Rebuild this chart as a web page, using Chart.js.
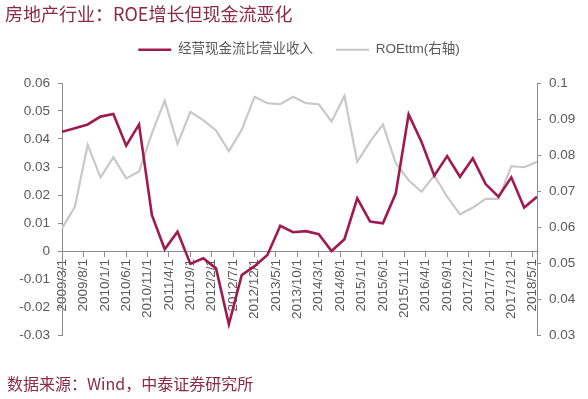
<!DOCTYPE html>
<html><head><meta charset="utf-8">
<script src="https://cdn.jsdelivr.net/npm/chart.js@4/dist/chart.umd.min.js"></script>
<style>
html,body{margin:0;padding:0;background:#fff;width:588px;height:399px;overflow:hidden;}
#wrap{position:relative;width:588px;height:399px;}
canvas{position:absolute;left:0;top:0;}
.t{position:absolute;font-family:"Noto Sans CJK SC","Liberation Sans",sans-serif;color:#8a2a47;white-space:nowrap;}
#title{left:5px;top:0px;font-size:18px;line-height:26px;}
#foot{left:7px;top:371px;font-size:16px;line-height:24px;}
</style></head><body>
<div id="wrap">
<canvas id="c" width="588" height="399"></canvas>
<div class="t" id="title">房地产行业：ROE增长但现金流恶化</div>
<div class="t" id="foot">数据来源：Wind，中泰证券研究所</div>
</div>
<script>
// quarterly observation dates
const dates = ["2009/3/1","2009/6/1","2009/9/1","2009/12/1","2010/3/1","2010/6/1","2010/9/1","2010/12/1",
"2011/3/1","2011/6/1","2011/9/1","2011/12/1","2012/3/1","2012/6/1","2012/9/1","2012/12/1",
"2013/3/1","2013/6/1","2013/9/1","2013/12/1","2014/3/1","2014/6/1","2014/9/1","2014/12/1",
"2015/3/1","2015/6/1","2015/9/1","2015/12/1","2016/3/1","2016/6/1","2016/9/1","2016/12/1",
"2017/3/1","2017/6/1","2017/9/1","2017/12/1","2018/3/1","2018/6/1"];
// 经营现金流比营业收入 (left axis)
const cashRatio = [0.0426,0.0438,0.0452,0.0480,0.0489,0.0376,0.0452,0.0129,
0.0006,0.0069,-0.0046,-0.0026,-0.0062,-0.0262,-0.0086,-0.0054,
-0.0014,0.0090,0.0067,0.0071,0.0060,0.0000,0.0042,0.0188,
0.0105,0.0099,0.0206,0.0488,0.0390,0.0269,0.0339,0.0265,
0.0331,0.0239,0.0194,0.0263,0.0155,0.0194];
// ROEttm (right axis)
const roeTtm = [0.0596,0.0656,0.0828,0.0738,0.0794,0.0735,0.0754,0.0860,
0.0951,0.0831,0.0920,0.0897,0.0868,0.0811,0.0870,0.0962,
0.0944,0.0941,0.0962,0.0944,0.0941,0.0893,0.0964,0.0781,
0.0837,0.0885,0.0777,0.0730,0.0698,0.0743,0.0684,0.0635,
0.0654,0.0678,0.0678,0.0769,0.0766,0.0781];
// x-axis tick labels (every 5 months)
const tickLabels = ["2009/3/1","2009/8/1","2010/1/1","2010/6/1","2010/11/1","2011/4/1","2011/9/1","2012/2/1",
"2012/7/1","2012/12/1","2013/5/1","2013/10/1","2014/3/1","2014/8/1","2015/1/1","2015/6/1","2015/11/1",
"2016/4/1","2016/9/1","2017/2/1","2017/7/1","2017/12/1","2018/5/1"];
const leftTicks = [-0.03,-0.02,-0.01,0,0.01,0.02,0.03,0.04,0.05,0.06];
const rightTicks = [0.03,0.04,0.05,0.06,0.07,0.08,0.09,0.1];

function monthIndex(d){const p=d.split('/');return (parseInt(p[0])-2009)*12+(parseInt(p[1])-3);}
const xs = dates.map(monthIndex);
const pts = arr => arr.map((v,i)=>({x:xs[i],y:v}));

const axisColor = '#8c8c8c';
const tickFont = {family:'"Liberation Sans", Arial, sans-serif', size:13.5};
const labelColor = '#595959';

const legendSpacer = {
  id:'legendSpacer',
  beforeInit(chart){
    const orig = chart.legend.fit;
    chart.legend.fit = function(){ orig.call(this); this.height = 63; };
  }
};

new Chart(document.getElementById('c'), {
  type:'line',
  data:{datasets:[
    {label:'经营现金流比营业收入', data:pts(cashRatio), yAxisID:'yL', borderColor:'#a01a52', backgroundColor:'#a01a52', borderWidth:2.6, pointRadius:0, tension:0, order:0},
    {label:'ROEttm(右轴)', data:pts(roeTtm), yAxisID:'yR', borderColor:'#c8c8c8', backgroundColor:'#c8c8c8', borderWidth:2.2, pointRadius:0, tension:0, order:1}
  ]},
  plugins:[legendSpacer],
  options:{
    responsive:false, animation:false, devicePixelRatio:1,
    layout:{padding:{left:10,right:0,top:20,bottom:64}},
    plugins:{
      tooltip:{enabled:false},
      legend:{position:'top', labels:{usePointStyle:true, pointStyle:'line', pointStyleWidth:33, padding:23, color:labelColor,
        font:{family:'"Liberation Sans","Noto Sans CJK SC",sans-serif', size:13.5}}}
    },
    scales:{
      x:{type:'linear', position:{yL:0}, min:0, max:111,
        afterBuildTicks(s){ s.ticks = tickLabels.map((l,i)=>({value:i*5})); },
        grid:{drawOnChartArea:false, drawTicks:true, tickLength:5, color:axisColor},
        border:{color:axisColor, width:1},
        ticks:{autoSkip:false, maxRotation:90, minRotation:90, padding:3, color:labelColor, font:tickFont,
          callback:(v)=>tickLabels[Math.round(v/5)]}
      },
      yL:{type:'linear', position:'left', min:-0.03, max:0.06,
        afterBuildTicks(s){ s.ticks = leftTicks.map(v=>({value:v})); },
        afterFit(s){ s.width = 52; },
        grid:{drawOnChartArea:false, tickLength:4, color:axisColor},
        border:{color:axisColor},
        ticks:{padding:8, color:labelColor, font:tickFont, callback:v=>String(v)}
      },
      yR:{type:'linear', position:'right', min:0.03, max:0.1,
        afterBuildTicks(s){ s.ticks = rightTicks.map(v=>({value:v})); },
        afterFit(s){ s.width = 51; },
        grid:{drawOnChartArea:false, tickLength:4, color:axisColor},
        border:{color:axisColor},
        ticks:{padding:8, color:labelColor, font:tickFont, callback:v=>String(v)}
      }
    }
  }
});
</script>
</body></html>
